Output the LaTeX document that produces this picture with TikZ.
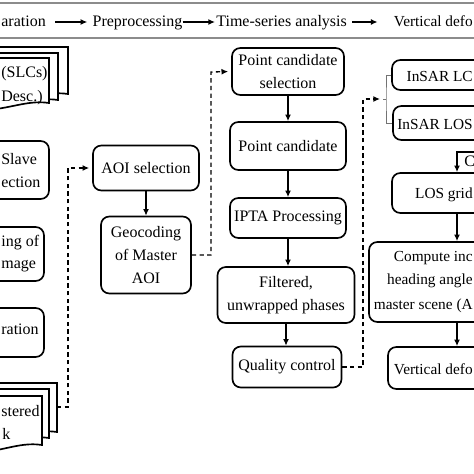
\documentclass[tikz,border=0pt]{standalone}
\usepackage{fontspec}
\setmainfont{Liberation Serif}
\usetikzlibrary{arrows.meta}
\newcommand{\px}{0.6pt}
% one sheet of a stacked document symbol: right edge, top, bottom
\newcommand{\sheet}[3]{%
	\filldraw[fill=white, line width=1pt] (-40,#2) -- (#1,#2) -- (#1,#3)
		.. controls (#1-25,#3-4) and (#1-45,#3+10) .. (-40,#3+8) -- cycle;}
\begin{document}
\begin{tikzpicture}[x=0.6pt, y=-0.6pt,
		font=\fontsize{9.6}{13.8}\selectfont,
		box/.style={draw, rounded corners=5pt, line width=1pt, align=center, inner sep=0pt},
		txt/.style={inner sep=0pt, text height=1.6ex, text depth=.3ex},
		cutL/.style={txt, anchor=west},
		cutR/.style={txt, anchor=east, font=\fontsize{9.2}{13}\selectfont},
		arr/.style={-{Latex[length=4pt,width=3.6pt]}, line width=0.8pt},
		dsh/.style={dash pattern=on 2.6pt off 2pt, line width=0.9pt, shorten >=3*\px},
		brace/.style={draw=black!55, line width=0.6pt},
		rule/.style={draw=black!45, line width=0.7pt}]
	\useasboundingbox (0,0) rectangle (474,474);
	\begin{scope}
		\clip (0,0) rectangle (474,474);
		
		% header
		\draw[rule] (-5,3) -- (480,3);
		\draw[rule] (-5,38) -- (480,38);
		\node[cutL] (hdA) at (1,22) {aration};
		\node[txt] (hdB) at (137.5,22) {Preprocessing};
		\node[txt, anchor=west] (hdC) at (216,22) {Time-series analysis};
		\node[cutR] (hdD) at (473,22) {Vertical defo};
		\draw[arr, shorten <=9*\px, shorten >=5*\px] (hdA.east) -- (hdB.west);
		\draw[arr, shorten >=1*\px] (hdB.east) -- (hdC.west);
		\draw[arr, shorten <=5*\px, shorten >=16*\px] (hdC.east) -- (hdD.west);
		
		% data preparation (cut at the left edge)
		\sheet{68}{47}{94}
		\sheet{58}{53}{100}
		\sheet{49}{58}{103}
		\node[cutL] (slcA) at (1,73) {(SLCs)};
		\node[cutL] (slcB) at (1,97) {Desc.)};
		
		\node[box, minimum width=100*\px, minimum height=58*\px] (slave) at (-1,170) {};
		\node[cutL] (slaveA) at (1,160) {Slave};
		\node[cutL] (slaveB) at (1,183) {ection};
		
		\node[box, minimum width=100*\px, minimum height=54*\px] (img) at (-6,254) {};
		\node[cutL] (imgA) at (1,242) {ing of};
		\node[cutL] (imgB) at (1,264) {mage};
		
		\node[box, minimum width=100*\px, minimum height=49*\px] (coreg) at (-6,332.5) {};
		\node[cutL] (coregA) at (1,330) {ration};
		
		\sheet{57}{383}{432}
		\sheet{49}{389}{438}
		\sheet{42}{396}{445}
		\node[cutL] (stkA) at (1,412) {stered};
		\node[cutL] (stkB) at (2,435) {k};
		\coordinate (stkR) at (57,407);
		
		% preprocessing
		\node[box, minimum width=106*\px, minimum height=45*\px] (aoi) at (146,168) {AOI selection};
		\node[box, minimum width=90*\px, minimum height=77*\px] (geo) at (146,255) {Geocoding\\of Master\\AOI};
		\draw[arr] (aoi) -- (geo);
		\coordinate (prx) at (68,168);
		\draw[dsh, arr] (stkR) -| (prx) -- (aoi.west);
		
		% time-series analysis
		\node[box, minimum width=112*\px, minimum height=47*\px] (pcs) at (288,71.5) {Point candidate\\selection};
		\node[box, minimum width=116*\px, minimum height=48*\px] (pc) at (288,146) {Point candidate};
		\node[box, minimum width=116*\px, minimum height=40*\px] (ipta) at (288,218) {IPTA Processing};
		\node[box, minimum width=137*\px, minimum height=56*\px] (filt) at (286,295) {Filtered,\\unwrapped phases};
		\node[box, minimum width=109*\px, minimum height=41*\px] (qc) at (287,367) {Quality control};
		\draw[arr] (pcs) -- (pc);
		\draw[arr] (pc) -- (ipta);
		\draw[arr] (ipta.south) -- (ipta.south |- filt.north);
		\draw[arr] (filt.south) -- (filt.south |- qc.north);
		\coordinate (ppx) at (211,72);
		\draw[dsh, arr] (geo.east) -| (ppx) -- (pcs.west);
		
		% vertical deformation (cut at the right edge)
		\node[box, minimum width=120*\px, minimum height=30*\px] (losA) at (452,75) {};
		\node[cutR] (losAt) at (473,77) {InSAR LC};
		\node[box, minimum width=120*\px, minimum height=34*\px] (losB) at (453,123) {};
		\node[cutR] (losBt) at (473,125) {InSAR LOS};
		\node[box, minimum width=120*\px, minimum height=40*\px] (grid) at (452,193) {};
		\node[cutR] (gridt) at (473,194) {LOS grid};
		\node[box, minimum width=120*\px, minimum height=80*\px] (comp) at (429,282) {};
		\node[cutR] (compA) at (473,257) {Compute inc};
		\node[cutR] (compB) at (473,280) {heading angle};
		\node[cutR] (compC) at (473,305) {master scene (A};
		\node[box, minimum width=120*\px, minimum height=42*\px] (vdef) at (448,368) {};
		\node[cutR] (vdeft) at (473,370) {Vertical defo};
		\node[txt, anchor=west] (cC) at (464,162) {C};
		
		\coordinate (acol) at (457,0);
		\coordinate (cin) at (480,152);
		\draw[arr] (cin) -| (grid.north -| acol);
		\draw[arr] (grid.south -| acol) -- (comp.north -| acol);
		\draw[arr] (comp.south -| acol) -- (vdef.north -| acol);
		
		\coordinate (tsx) at (363,99);
		\coordinate (brkin) at (383,99);
		\coordinate (brk) at (386,99);
		\draw[dsh, arr] (qc.east) -| (tsx) -- (brkin);
		\draw[brace] (brkin) -- (brk);
		\draw[brace] (losA.west) -| (brk) |- (losB.west);
	\end{scope}
\end{tikzpicture}
\end{document}
